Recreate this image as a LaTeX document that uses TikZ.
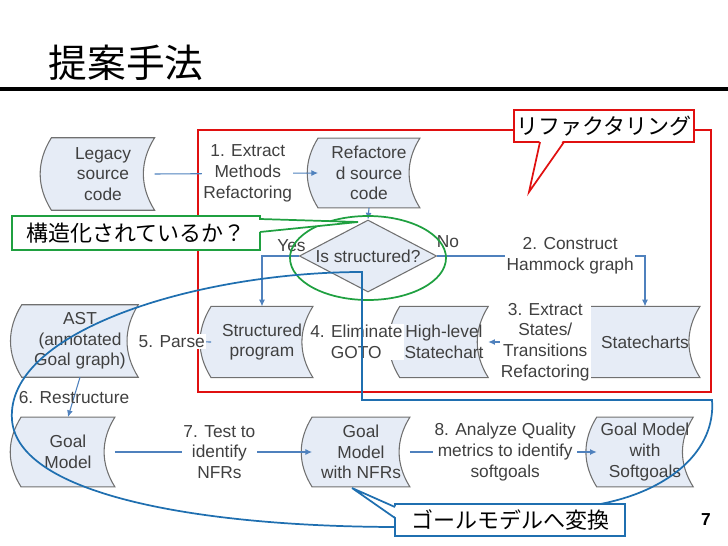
\documentclass[tikz,border=0pt]{standalone}
\usepackage{fontspec}
\setmainfont{Liberation Sans}
\newfontfamily\cjk{Noto Sans CJK JP}
\usetikzlibrary{arrows.meta,shapes.geometric,backgrounds}
\definecolor{sdfill}{HTML}{E6ECF6}
\definecolor{sdline}{HTML}{707070}
\definecolor{arrc}{HTML}{4F81BD}
\definecolor{txt}{HTML}{404040}
\definecolor{cblue}{HTML}{1F6FB0}
\definecolor{cgreen}{HTML}{1FA040}
\definecolor{cred}{HTML}{E01010}
\tikzset{
 sdtext/.style={align=center,text=txt,font=\fontsize{13}{15.5}\selectfont,inner sep=0pt},
 sdshape/.style={fill=sdfill,draw=sdline,line width=0.8pt},
 arr/.style={draw=arrc,line width=0.8pt,-{Latex[length=5pt,width=4.5pt]}},
 lab/.style={fill=white,align=center,text=txt,font=\fontsize{13}{15.5}\selectfont,inner sep=1pt},
 callbox/.style={fill=white,line width=1.3pt,font=\cjk\fontsize{16.5}{18}\selectfont,inner sep=2pt},
}
\newcommand\sdbox[5]{%
 \node[sdtext,minimum width=#3,minimum height=#4] (#1) at #2 {#5};
 \begin{scope}[on background layer]
 \draw[sdshape] (#1.north west) -- (#1.north east) to[bend right=32] (#1.south east) -- (#1.south west) to[bend left=32] cycle;
 \end{scope}}
\begin{document}
\begin{tikzpicture}[x=0.75pt,y=-0.75pt]
\useasboundingbox (0,0) rectangle (728,546);
\node[anchor=west,font=\cjk\fontsize{29}{32}\selectfont] (title) at (44,63) {提案手法};
\draw[line width=3pt] (0,89) -- (728,89);
% red frame
\draw[cred,line width=1.3pt] (198,130) rectangle (711,392);
% nodes
\sdbox{lg}{(103,174)}{77pt}{54pt}{Legacy\\source\\code}
\sdbox{rf}{(369,173)}{76pt}{52pt}{Refactore\\d source\\code}
\node[draw=sdline,fill=sdfill,line width=0.8pt,diamond,shape aspect=1.9,minimum width=103pt,minimum height=54pt,inner sep=0pt,sdtext] (dia) at (368,256) {Is structured?};
\sdbox{ast}{(80,341)}{87pt}{54pt}{AST\\(annotated\\Goal graph)}
\sdbox{sp}{(262,342)}{76pt}{53pt}{Structured\\program}
\sdbox{hl}{(444,342)}{66pt}{53pt}{High-level\\Statechart}
\sdbox{sc}{(645,342)}{82pt}{53pt}{Statecharts}
\sdbox{gm}{(68,452)}{70pt}{52pt}{Goal\\Model}
\sdbox{nfr}{(361,452)}{73pt}{52pt}{Goal\\Model\\with NFRs}
\sdbox{sg}{(645,452)}{72pt}{52pt}{Goal Model\\with\\Softgoals}
% edges
\draw[arr] (lg.east) -- node[lab,pos=0.57] (l1) {1. Extract\\Methods\\Refactoring} (rf.west);
\draw[arr] (rf.south) -- (dia.north);
\draw[arr] (dia.west) -| node[lab,pos=0.1,above=2pt,fill=none] (ly) {Yes} (sp.north);
\draw[arr] (dia.east) -| node[lab,pos=0.32] (l2) {2. Construct\\Hammock graph} (sc.north);
\node[lab,fill=none] (ln) at (448,242) {No};
\draw[arr] (sc.west) -- node[lab,pos=0.44] (l3) {3. Extract\\States/\\Transitions\\Refactoring} (hl.east);
\draw[arr] (hl.west) -- node[lab] (l4) {4. Eliminate\\GOTO} (sp.east);
\draw[arr] (sp.west) -- node[lab,pos=0.54] (l5) {5. Parse} (ast.east);
\draw[arr] (ast.south) -- node[lab,fill=none] (l6) {6. Restructure} (gm.north);
\draw[arr] (gm.east) -- node[lab,pos=0.53] (l7) {7. Test to\\identify\\NFRs} (nfr.west);
\draw[arr] (nfr.east) -- node[lab,pos=0.51] (l8) {8. Analyze Quality\\metrics to identify\\softgoals} (sg.west);
% red callout
\node[callbox,draw=cred,minimum width=128pt,minimum height=24pt] (rc) at (604,126) {リファクタリング};
\fill[white] (540,139) -- (529,192) -- (564,139) -- cycle;
\draw[cred,line width=1.3pt] (540,142) -- (529,192) -- (564,142);
% green
\draw[cgreen,line width=1.3pt] (368,258) ellipse (78 and 42);
\node[callbox,draw=cgreen,minimum width=186pt,minimum height=25pt] (gc) at (136,233) {構造化されているか？};
\fill[white] (258,220) -- (358,222) -- (258,232) -- cycle;
\draw[cgreen,line width=1.3pt] (260,219) -- (358,222) -- (260,232);
% blue
\draw[cblue,line width=1.3pt] (400,527) .. controls (200,527) and (18,495) .. (12,420) .. controls (5,330) and (200,272) .. (362,272) -- (362,400) -- (712,400) .. controls (716,450) and (670,492) .. (595,505);
\node[callbox,draw=cblue,minimum width=172pt,minimum height=24pt] (bc) at (510,520) {ゴールモデルへ変換};
\fill[white] (397,507) -- (352,488) -- (397,518) -- cycle;
\draw[cblue,line width=1.3pt] (395,507) -- (352,488) -- (395,518);
\node[font=\bfseries\fontsize{13}{15}\selectfont] (pg) at (706,520) {7};
\end{tikzpicture}
\end{document}
